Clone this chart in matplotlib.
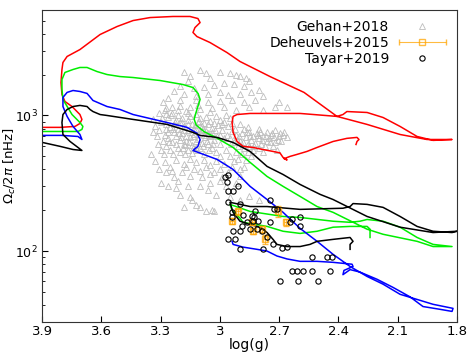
import numpy as np
import matplotlib
matplotlib.use("Agg")
import matplotlib.pyplot as plt
from matplotlib.legend_handler import HandlerErrorbar
from matplotlib.container import ErrorbarContainer

# ---------------- evolutionary tracks (log g, Omega_c/2pi [nHz]) ----------------
red_track = [(3.92,817),(3.809,817),(3.733,830),(3.708,873),(3.698,935),(3.708,1016),(3.748,1164),
    (3.784,1268),(3.799,1429),(3.804,1750),(3.799,2183),(3.794,2460),(3.773,2723),(3.708,3062),
    (3.606,3954),(3.520,4529),(3.439,5012),(3.353,5272),(3.237,5370),(3.151,5370),(3.111,5186),
    (3.100,4842),(3.126,4446),(3.136,4093),(3.116,3819),(3.050,3451),(2.964,2911),(2.898,2500),
    (2.746,1936),(2.574,1479),(2.407,984),(2.255,859),(2.088,724),(1.952,665),(1.825,665),
    (1.921,655),(2.002,700),(2.088,830),(2.174,966),(2.255,1052),(2.357,1069),(2.377,1016),
    (2.407,984),(2.594,1035),(2.847,1035),(2.913,1016),(2.933,984),(2.938,887),(2.933,750),
    (2.913,643),(2.883,592),(2.832,581),(2.782,561),(2.731,543),(2.696,530),(2.680,490),
    (2.660,470),(2.675,480),(2.645,499),(2.610,516),(2.559,543),(2.508,581),(2.427,643),
    (2.357,678),(2.306,689),(2.296,665),(2.306,643),(2.311,611)]

green_track = [(3.92,762),(3.718,762),(3.698,789),(3.693,830),(3.708,887),(3.748,1016),(3.794,1312),
    (3.799,1556),(3.799,1841),(3.784,2075),(3.743,2183),(3.708,2259),(3.672,2259),(3.622,2109),
    (3.571,2004),(3.505,1936),(3.439,1905),(3.303,1811),(3.186,1690),(3.136,1607),(3.110,1450),
    (3.100,1312),(3.116,1107),(3.130,940),(3.120,850),(3.080,760),(3.014,680),(2.933,581),
    (2.847,451),(2.761,355),(2.680,300),(2.594,253),(2.508,213),(2.427,193),(2.255,145),
    (2.174,133),(2.002,118),(1.921,108),(1.825,108),
    (1.921,112),(2.002,126),(2.088,150),(2.174,166),(2.255,171),(2.291,166),(2.341,163),
    (2.427,166),(2.594,177),(2.680,180),(2.847,196),(2.949,221),(2.938,200),(2.898,175),
    (2.883,163),(2.761,152),(2.680,140),(2.594,135),(2.508,140),(2.427,150),(2.341,152),
    (2.255,152),(2.240,145),(2.240,126)]

blue_track = [(3.92,713),(3.80,713),(3.718,700),(3.698,665),(3.708,724),(3.743,830),(3.773,984),
    (3.794,1164),(3.794,1358),(3.773,1479),(3.743,1528),(3.708,1503),(3.672,1454),(3.642,1290),
    (3.571,1164),(3.505,1107),(3.439,1016),(3.267,887),(3.166,817),(3.116,740),(3.100,665),
    (3.111,592),(3.136,552),(3.014,474),(2.933,400),(2.847,300),(2.761,240),(2.680,193),
    (2.594,147),(2.508,118),(2.427,94.6),(2.341,77),(2.255,65),(2.174,57),(2.088,48),
    (2.002,44),(1.921,40.5),(1.820,37.8),(1.825,35.9),(1.886,37.2),(1.972,39),(2.038,46),
    (2.124,54),(2.205,62),(2.291,70),(2.341,73),(2.377,67),(2.372,72),(2.326,77),(2.331,80),
    (2.427,82.6),(2.508,84),(2.594,84),(2.660,87.5),(2.711,92),(2.761,100),(2.812,103),
    (2.883,107),(2.933,112),(2.938,118)]

black_track = [(3.92,643),(3.809,592),(3.743,561),(3.698,552),(3.718,581),(3.758,643),(3.794,724),
    (3.799,887),(3.794,1016),(3.773,1107),(3.743,1164),(3.708,1186),(3.672,1164),(3.657,1107),
    (3.642,1069),(3.606,1016),(3.571,1000),(3.439,935),(3.267,859),(3.136,750),(3.100,713),
    (3.014,689),(2.933,632),(2.847,543),(2.761,421),(2.680,367),(2.594,310),(2.493,262),
    (2.427,240),(2.255,180),(2.088,150),(1.921,137),(1.80,140),
    (1.825,137),(1.921,140),(2.002,152),(2.088,180),(2.174,210),(2.255,221),(2.326,224),
    (2.341,213),(2.377,207),(2.594,203),(2.761,213),(2.847,213),(2.949,229),(2.933,193),
    (2.898,166),(2.847,157),(2.797,150),(2.761,137),(2.731,122),(2.711,112),(2.660,108),
    (2.594,108),(2.544,112),(2.508,118),(2.427,122),(2.341,126),(2.326,118),(2.341,112),
    (2.341,103)]

track_colors = ["red", "#00ee00", "blue", "black"]

# ---------------- Gehan+2018 ----------------
gehan = [
 (3.26,980),(3.24,1050),(3.22,930),(3.27,870),(3.25,820),(3.23,760),(3.28,720),(3.26,680),(3.24,640),(3.27,600),
 (3.21,1010),(3.19,960),(3.2,890),(3.18,840),(3.21,800),(3.19,740),(3.22,700),(3.2,660),(3.18,620),(3.21,580),
 (3.17,1080),(3.15,990),(3.16,920),(3.14,870),(3.16,780),(3.13,730),(3.15,690),(3.17,650),(3.14,610),(3.16,560),
 (3.12,1020),(3.1,950),(3.11,890),(3.09,840),(3.12,800),(3.1,760),(3.08,720),(3.11,670),(3.09,630),(3.12,590),
 (3.07,980),(3.05,910),(3.06,860),(3.04,810),(3.07,770),(3.05,700),(3.03,660),(3.06,620),(3.04,580),(3.02,540),
 (3.3,900),(3.31,780),(3.29,650),(3.32,700),(3.3,560),(3.33,840),(3.34,750),(3.28,1100),(3.24,1150),(3.2,1180),
 (3.15,1150),(3.1,1120),(3.05,1060),(3.02,990),(3.0,930),(3.01,850),(2.99,780),(3.0,720),(2.98,680),(3.0,620),
 (3.23,860),(3.18,780),(3.13,800),(3.08,880),(3.26,760),(3.17,700),(3.12,650),(3.06,740),(3.2,540),(3.25,560),
 (3.1,580),(3.14,530),(3.19,900),(3.09,780),(3.03,880),(3.27,1020),(3.22,620),(3.16,860),(3.11,730),(3.04,760),
 (2.96,830),(2.94,770),(2.92,720),(2.95,680),(2.93,640),(2.91,600),(2.97,560),(2.9,860),(2.88,800),(2.89,740),
 (2.87,690),(2.9,650),(2.86,620),(2.88,580),(2.85,760),(2.83,710),(2.84,660),(2.82,630),(2.85,600),(2.8,680),
 (2.81,740),(2.79,620),(2.78,700),(2.76,650),(2.77,600),(2.74,720),(2.75,680),(2.72,640),(2.7,700),(2.73,600),
 (2.92,540),(2.89,520),(2.86,540),(2.83,560),(2.8,580),(2.95,500),(2.91,480),(2.87,470),(2.84,500),(2.98,900),
 (2.94,880),(2.86,820),(2.8,800),(2.76,760),(2.72,780),(2.68,720),(2.66,690),(2.69,650),(2.71,560),(2.78,540),
 (3.18,2100),(3.15,1950),(3.16,1800),(3.1,2150),(3.07,2050),(3.05,1900),(3.0,2100),(2.95,2050),(2.92,2000),(2.9,1950),
 (2.87,1900),(2.85,1800),(2.88,1650),(2.93,1700),(2.98,1750),(3.03,1680),(3.08,1620),(3.13,1600),(3.2,1650),(3.23,1520),
 (3.18,1450),(3.12,1400),(3.06,1450),(3.0,1500),(2.96,1420),(2.9,1450),(2.84,1500),(2.8,1550),(2.78,1400),(2.82,1300),
 (2.88,1250),(2.94,1300),(3.0,1280),(3.06,1250),(3.12,1300),(3.2,1300),(3.26,1350),(3.29,1250),(2.7,1250),(2.66,1150),
 (2.72,1150),(2.78,1100),(2.85,1150),(2.92,1100),(2.98,1150),
 (3.28,450),(3.25,420),(3.22,470),(3.18,440),(3.15,480),(3.12,450),(3.08,470),(3.05,430),(3.02,460),(2.98,440),
 (3.27,380),(3.23,350),(3.19,380),(3.15,360),(3.1,390),(3.05,370),(3.0,400),(2.96,380),(3.26,300),(3.22,290),
 (3.3,320),(3.2,260),(3.15,250),(3.1,300),(3.05,320),(3.0,330),(2.97,300),(3.12,220),(3.18,210),(3.04,200),
 (3.02,260),(2.95,250),(2.92,320),(2.9,360),(2.88,420),(2.93,460),(3.33,460),(3.35,520),(3.31,400),(3.08,520),
 (3.0,500),(2.94,420),(2.9,400),(3.07,196),(3.03,196),(3.10,210),(3.14,240),(2.85,253),(2.80,240),(2.90,240),
 (3.245,1000),(3.225,900),(3.235,800),(3.205,740),(3.195,690),(3.175,610),(3.155,640),(3.135,700),(3.145,760),(3.125,850),
 (3.105,910),(3.085,800),(3.075,690),(3.065,650),(3.045,720),(3.025,780),(3.015,700),(3.035,620),(3.055,560),(3.085,600),
 (3.115,560),(3.185,580),(3.255,640),(3.275,800),(3.295,960),(3.315,620),(3.285,520),(3.235,520),(3.175,520),(3.135,580),
 (2.965,720),(2.945,620),(2.925,800),(2.905,700),(2.885,640),(2.865,760),(2.845,700),(2.825,600),(2.805,720),(2.785,660),
 (2.765,700),(2.745,640),(2.725,690),(2.705,660),(2.695,740),(2.675,760),(2.735,740),(2.795,760),(2.855,580),(2.915,660),
 (3.21,1100),(3.16,1050),(3.11,1200),(3.04,1140),(2.97,1000),(2.95,950),(2.99,860),(3.27,1130),(3.31,1050),(3.34,940),
 (3.17,420),(3.13,400),(3.07,420),(3.03,380),(2.99,350),(3.21,330),(3.16,300),(3.09,350),(3.06,280),(3.24,390)]

# ---------------- Deheuvels+2015 ----------------
deh_logg = [2.938, 2.908, 2.837, 2.832, 2.771, 2.706, 2.665, 2.787]
deh_nu   = [166, 196, 163, 140, 122, 196, 163, 145]
deh_nu_err = [8, 10, 8, 7, 10, 18, 9, 8]
deh_logg_err = [0.01, 0.01, 0.01, 0.01, 0.01, 0.01, 0.01, 0.01]

# ---------------- Tayar+2019 ----------------
tayar_logg = [2.974,2.959,2.964,2.959,2.933,2.908,2.746,2.959,2.898,2.938,2.883,2.837,2.822,2.832,
    2.807,2.746,2.711,2.645,2.594,2.888,2.847,2.812,2.933,2.898,2.923,2.959,2.898,2.782,2.594,
    2.534,2.458,2.432,2.635,2.610,2.579,2.534,2.443,2.696,2.605,2.503,2.787,2.761,2.731,2.685,
    2.660,2.863,2.938,2.726,2.635,2.827]
tayar_nu = [349,361,321,275,275,300,240,229,221,193,186,180,196,166,166,163,203,163,177,152,145,
    145,140,140,122,122,103,103,152,89.9,89.9,89.9,70.8,70.8,70.8,70.8,70.8,59.8,59.8,59.8,140,
    128,112,106,108,163,177,203,171,177]

fig = plt.figure(figsize=(4.74, 3.55), dpi=100)
ax = fig.add_axes([0.0886, 0.093, 0.8755, 0.879])

g_x, g_y = zip(*gehan)
h_g, = ax.plot(g_x, g_y, ls="none", marker="^", ms=4.5, mfc="none", mec="#bdbdbd", mew=0.6,
               label="Gehan+2018", zorder=1)

for trk, col in zip([red_track, green_track, blue_track, black_track], track_colors):
    tx, ty = zip(*trk)
    ax.plot(tx, ty, color=col, lw=1.1, zorder=2)

deh_style = dict(fmt="s", ms=4.5, mfc="none", mec="orange", ecolor="orange", color="orange",
                 elinewidth=0.8, capsize=2, alpha=0.75)
ax.errorbar(deh_logg, deh_nu, yerr=deh_nu_err, xerr=deh_logg_err, zorder=3, **deh_style)
# legend proxy (horizontal error bar only, as in the reference legend)
h_d = ax.errorbar([np.nan], [np.nan], xerr=[0.01], **deh_style)

h_t, = ax.plot(tayar_logg, tayar_nu, ls="none", marker="o", ms=3.8, mfc="none", mec="black",
               mew=0.8, label="Tayar+2019", zorder=4)

ax.set_yscale("log")
ax.set_xlim(3.9, 1.8)
ax.set_ylim(30, 6000)
ax.set_xticks([3.9, 3.6, 3.3, 3.0, 2.7, 2.4, 2.1, 1.8])
ax.set_xticklabels(["3.9", "3.6", "3.3", "3", "2.7", "2.4", "2.1", "1.8"])
ax.tick_params(which="both", direction="in", top=False, right=False, labelsize=9.5, pad=2.5)
ax.tick_params(axis="y", labelsize=9, pad=3)
ax.tick_params(which="major", length=4)
ax.tick_params(which="minor", length=2.5)
for s in ax.spines.values():
    s.set_color("#333333")
ax.set_xlabel("log(g)", fontsize=10, labelpad=0)
ax.set_ylabel(r"$\Omega_c/2\pi$ [nHz]", fontsize=9.5)
ax.yaxis.set_label_coords(-0.057, 0.5)

ax.legend([h_g, h_d, h_t], ["Gehan+2018", "Deheuvels+2015", "Tayar+2019"],
          loc="upper right", frameon=False, markerfirst=False, fontsize=10,
          handlelength=3.6, handletextpad=0.6, borderaxespad=0.3, labelspacing=0.15,
          handler_map={ErrorbarContainer: HandlerErrorbar(xerr_size=1.7)})

fig.savefig("out.png", dpi=100)
